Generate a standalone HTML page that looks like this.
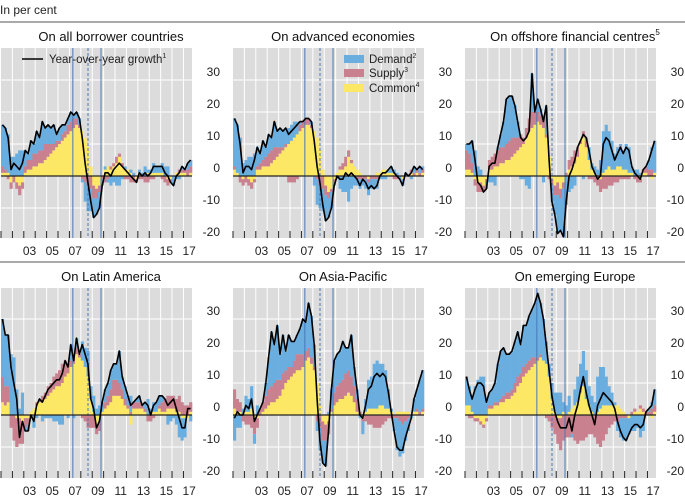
<!DOCTYPE html>
<html><head><meta charset="utf-8"><style>
html,body{margin:0;padding:0;background:#fff;}
svg{display:block;font-family:"Liberation Sans",sans-serif;}
</style></head><body>
<svg id="chart" width="685" height="501" viewBox="0 0 685 501">
<text x="0" y="14" font-size="12" fill="#222">In per cent</text>
<line x1="0" y1="22" x2="685" y2="22" stroke="#555" stroke-width="1"/>
<line x1="0" y1="262" x2="685" y2="262" stroke="#555" stroke-width="1"/>
</svg>
<script>
const titles = ["On all borrower countries","On advanced economies","On offshore financial centres","On Latin America","On Asia-Pacific","On emerging Europe"];
const titleSup = ["","","5","","",""];
const yTicks = [30,20,10,0,-10,-20];
const yearLabels = ["03","05","07","09","11","13","15","17"];
const yearLabelYears = [2003,2005,2007,2009,2011,2013,2015,2017];
const eventLines = [2007.3, 2008.63, 2009.77];

const growth1 = [16,15,12,2,4,3,2,4,8,7,11,10,14,12,17,15,16,15,16,13,15,16,16,18,20,19,20,18,12,4,-2,-8,-13,-12,-10,-3,1,1,0,2,3,4,3,2,1,0,-1,-2,1,0,1,0,1,3,3,3,3,1,0,-2,-3,0,1,3,2,4,5];
const common1 = [1,1,1,-2,0,-2,-3,-2,1,2,2,3,3,4,4,5,6,7,8,9,10,11,12,13,14,15,16,15,14,12,9,3,-3,-4,-3,0,2,3,2,3,4,6,3,2,2,1,0,-1,1,0,0,1,1,1,1,1,1,0,-1,-1,0,1,1,1,1,0,1];
const supply1 = [2,1,-1,-2,-2,-2,-3,-2,2,3,3,4,4,4,4,5,4,3,2,2,1,2,2,3,3,3,2,1,-1,-2,-3,-4,-4,-3,-2,-1,-2,-1,1,1,2,1,1,-1,-1,-2,-2,-1,-1,-1,-2,-2,-1,-1,0,0,-1,-2,-2,-1,0,0,1,1,1,2,2];
const demand1 = [13,13,12,6,6,7,8,8,5,2,6,3,7,4,9,5,6,5,6,2,4,3,2,2,3,1,2,2,-1,-6,-8,-7,-6,-5,-5,-2,1,-1,-3,-2,-3,-3,-1,1,0,1,1,0,1,1,3,1,1,3,2,2,3,3,3,0,-3,-1,-1,1,0,2,2];

const growth2 = [18,16,10,1,3,3,2,5,9,7,11,9,13,12,17,14,15,14,15,13,14,15,16,17,17,18,18,17,11,3,-2,-9,-14,-13,-10,-3,0,-1,-1,1,0,1,0,-1,-3,-1,-2,-4,-3,-4,-3,0,1,1,2,3,1,0,-1,-3,1,0,1,3,2,3,2];
const common2 = [2,1,0,-1,0,-1,-2,-1,2,2,3,3,3,4,5,6,7,8,9,10,11,12,13,14,15,16,16,15,14,12,8,2,-3,-5,-4,-1,1,2,2,3,6,4,3,2,1,0,0,-1,0,0,1,1,2,2,1,1,1,0,0,-1,0,0,1,0,1,0,1];
const supply2 = [1,0,-2,-2,-2,-2,-2,-1,1,2,2,3,4,4,4,3,2,1,1,-2,-2,-2,-1,2,2,2,2,1,0,-1,-3,-4,-3,-2,-1,-1,0,1,2,3,2,1,0,-1,-1,-1,-1,-1,-1,-1,-1,0,0,0,0,0,-1,-1,0,0,0,0,1,1,1,1,1];
const demand2 = [15,15,12,4,5,6,6,7,6,3,6,3,6,4,8,5,6,5,5,5,5,5,4,1,0,0,0,1,-3,-8,-7,-7,-8,-6,-5,-1,-1,-4,-5,-5,-8,-4,-3,-2,-3,-2,-3,-4,-3,-3,-3,-1,-1,-1,1,2,1,1,-1,-2,1,0,-1,2,0,2,1];

const growth3 = [10,10,11,5,-2,-3,-5,-4,3,4,4,9,13,17,24,25,25,22,17,12,11,12,14,32,20,24,21,17,22,5,-8,-12,-18,-17,-19,-8,0,2,5,9,11,13,12,8,3,1,-1,0,10,12,11,8,5,7,9,7,9,8,3,1,0,-1,2,3,5,8,11];
const common3 = [2,2,1,-1,-2,-2,-3,-1,2,2,3,3,4,4,5,5,6,7,8,9,10,12,14,15,16,17,16,15,12,6,-1,-3,-2,-4,-2,0,2,3,4,6,10,12,9,5,2,1,0,-1,1,2,3,2,2,3,3,2,2,1,1,0,0,-1,1,1,0,-1,1];
const supply3 = [6,5,3,-2,-3,-3,-2,-1,3,4,4,5,5,5,5,6,6,5,4,4,2,3,4,5,4,3,3,4,1,-1,-2,-3,-4,-3,-2,1,3,3,4,3,1,2,2,-1,-1,-2,-3,-4,-4,-4,-3,-3,-2,-2,-1,-1,-1,-1,0,-1,-2,-1,1,2,2,2,0];
const demand3 = [2,3,7,8,3,2,0,-2,-2,-2,-3,1,4,8,14,14,13,10,5,-1,-1,-3,-4,12,0,4,2,-2,9,0,-5,-6,-12,-10,-15,-9,-5,-4,-3,0,0,-1,1,4,2,2,2,5,13,14,11,9,5,6,7,6,8,8,2,2,2,1,0,0,3,7,10];

const growth4 = [30,25,25,15,10,5,-7,-2,-5,-5,0,-2,3,5,4,6,8,9,10,11,11,13,17,15,22,17,24,19,22,19,16,5,2,-4,-2,4,8,10,14,16,16,20,12,9,6,3,4,5,6,3,4,3,0,3,4,6,6,5,3,4,5,2,-1,-4,-4,2,2];
const common4 = [4,3,4,0,0,-1,-1,-2,-1,-1,1,2,3,4,4,5,6,7,8,9,9,10,12,13,15,16,19,18,17,15,12,5,1,-3,-2,1,2,3,4,6,6,6,5,3,2,-3,2,2,2,2,1,0,0,1,1,2,1,1,2,2,2,1,1,-1,-1,-1,1];
const supply4 = [8,6,5,-4,-8,-9,-8,-7,-3,-2,-1,0,1,1,2,2,3,3,4,4,5,6,5,3,2,2,2,1,-1,-2,-4,-4,-4,-3,-3,0,2,3,4,5,5,4,3,2,1,1,2,2,2,1,1,-2,-2,-1,0,1,3,4,4,4,4,4,5,4,3,3,3];
const demand4 = [18,16,16,19,18,8,2,7,-1,-2,0,-4,-1,0,-2,-1,-1,-1,-2,-2,-3,-3,0,-1,5,-1,3,0,6,6,8,4,5,2,3,3,4,4,6,5,5,10,4,4,3,5,0,1,2,0,2,5,2,3,3,3,2,0,-3,-2,-1,-3,-7,-7,-6,0,-2];

const growth5 = [-1,1,0,0,3,2,5,-2,0,2,4,10,18,26,22,28,19,25,20,25,23,23,25,27,30,29,35,31,22,5,-8,-15,-16,-5,8,17,19,20,23,21,21,25,15,8,0,-1,3,8,9,12,13,12,13,12,7,1,-5,-10,-11,-11,-7,-4,-1,5,8,11,14];
const common5 = [2,1,1,0,1,1,2,-1,-1,0,1,2,3,4,4,5,6,8,10,11,12,13,14,14,15,17,18,16,14,10,3,-2,-3,-2,1,3,4,5,5,6,7,6,4,1,0,-1,1,2,2,2,2,3,3,2,2,1,0,1,1,1,1,1,0,1,1,0,1];
const supply5 = [6,4,3,-2,-3,-3,-4,-5,-3,2,3,4,5,5,6,6,5,5,4,4,3,4,5,5,4,3,3,2,1,-2,-4,-6,-5,-4,1,4,5,5,6,7,7,6,5,4,1,-1,-2,-3,-3,-4,-4,-4,-3,-2,-1,-1,-1,-1,-2,-3,-2,-1,0,0,1,1,1];
const demand5 = [-8,-4,-4,2,5,4,7,-3,3,0,0,4,10,17,12,17,8,12,6,10,8,6,6,8,11,9,14,13,7,-3,-7,-7,-8,1,6,10,10,10,12,8,7,13,6,3,-1,-4,4,9,10,14,15,13,13,12,6,1,-4,-10,-11,-9,-6,-4,-1,4,6,10,12];

const growth6 = [12,8,5,8,10,10,9,4,7,8,10,16,20,21,19,19,20,23,26,22,28,28,31,33,35,38,35,30,22,14,6,1,-2,-4,-4,-4,-1,-5,0,3,8,12,7,3,0,-3,3,5,7,6,5,4,2,-2,-5,-7,-8,-6,-4,-3,-3,-4,-3,1,2,3,8];
const common6 = [3,3,1,-1,-1,-2,-3,-1,2,2,3,3,4,4,5,5,6,7,9,10,12,13,14,15,16,17,18,17,16,12,5,1,-1,-1,1,0,1,2,3,4,7,9,5,3,1,0,1,2,3,3,3,3,3,3,2,1,0,-1,0,1,1,2,1,0,0,-1,1];
const supply6 = [0,-1,-1,-1,-1,-1,-1,-1,1,1,1,1,1,2,2,2,2,3,3,3,3,3,3,3,2,1,1,0,-1,-2,-4,-6,-8,-10,-8,-7,-7,-6,-8,-9,-8,-8,-7,-6,-6,-7,-9,-10,-8,-6,-4,-3,-2,-2,-1,-1,-1,0,1,1,0,1,1,1,1,2,2];
const demand6 = [9,6,5,9,11,12,12,5,4,5,6,12,15,15,12,12,12,13,14,9,13,12,14,15,17,20,16,13,7,4,5,6,7,7,3,3,5,-1,5,8,9,11,9,6,5,4,11,13,12,9,6,4,1,-3,-6,-7,-7,-5,-5,-5,-4,-7,-5,0,1,2,5];

const growthAll = [growth1,growth2,growth3,growth4,growth5,growth6];
const commonAll = [common1,common2,common3,common4,common5,common6];
const supplyAll = [supply1,supply2,supply3,supply4,supply5,supply6];
const demandAll = [demand1,demand2,demand3,demand4,demand5,demand6];

const NS="http://www.w3.org/2000/svg";
const svg=document.getElementById('chart');
function mk(tag,attrs,parent){const e=document.createElementNS(NS,tag);for(const k in attrs)e.setAttribute(k,attrs[k]);(parent||svg).appendChild(e);return e;}

const panelX=[1,233,465,1,233,465];
const panelTop=[48,48,48,288,288,288];
const zeroY=[176,176,176,415,415,415];
const plotW=191;
const startYear=2001, endYear=2017.75;
const COL={demand:"#6aaee0",supply:"#c9808f",common:"#fde865"};

for(let p=0;p<6;p++){
  const x0=panelX[p], top=panelTop[p], z=zeroY[p], bottom=top+190;
  const g=mk('g',{});
  
  
  const xs=yr=>x0+(yr-startYear)/(endYear-startYear)*plotW;
  const ys=v=>z-v*3.2;
  const bg=mk('rect',{x:x0,y:top,width:plotW,height:190,fill:"#dcdcdc"},g);
  
  
  // vertical year grid
  for(let y=2002;y<=2017;y++){
    const l=mk('line',{x1:xs(y),x2:xs(y),y1:top,y2:bottom,stroke:"#fff","stroke-width":1},g);
    
    
  }
  yTicks.forEach(t=>{
    if(t!==0 && ys(t)>top && ys(t)<bottom){
      const l=mk('line',{x1:x0,x2:x0+plotW,y1:ys(t),y2:ys(t),stroke:"#fff","stroke-width":1},g);
      
      
    }
    const tx=mk('text',{x:x0+219,y:ys(t)-4,"text-anchor":"end","font-size":"12",fill:"#222"},g);
    tx.textContent=t;
    
    
  });
  // bars
  const n=growthAll[p].length, bw=plotW/n*(67/ (endYear-startYear)/4)/ (67/(endYear-startYear)/4);
  const qw=plotW/((endYear-startYear)*4);
  for(let i=0;i<n;i++){
    let pos=0,neg=0;
    const comps=[["common",commonAll[p][i]],["supply",supplyAll[p][i]],["demand",demandAll[p][i]]];
    comps.forEach(([name,v])=>{
      if(v===0)return;
      let y1,y2;
      if(v>0){y1=pos;y2=pos+v;pos=y2;}else{y1=neg;y2=neg+v;neg=y2;}
      const r=mk('rect',{x:x0+i*qw,width:qw+0.3,y:Math.min(ys(y1),ys(y2)),height:Math.abs(ys(y1)-ys(y2)),fill:COL[name]},g);
      
      
    });
  }
  // event lines
  eventLines.forEach((ev,k)=>{
    const l=mk('line',{x1:xs(ev),x2:xs(ev),y1:top,y2:bottom,stroke:"#4a78b8","stroke-width":1},g);
    if(k===1)l.setAttribute('stroke-dasharray','3,2');
    
    
  });
  const zl=mk('line',{x1:x0,x2:x0+plotW,y1:z,y2:z,stroke:"#222","stroke-width":1.2},g);
  
  
  // growth line
  const pts=growthAll[p].map((v,i)=>(x0+(i+0.5)*qw).toFixed(1)+","+ys(v).toFixed(1)).join(" ");
  const pl=mk('polyline',{points:pts,fill:"none",stroke:"#000","stroke-width":1.6,"stroke-linejoin":"round"},g);
  
  
  // ticks
  for(let y=2001;y<=2017;y++){
    const t=mk('line',{x1:xs(y+ (y===2001?0:0)),x2:xs(y),y1:bottom-7,y2:bottom,stroke:"#222","stroke-width":1},g);
    
    
  }
  yearLabels.forEach((lab,k)=>{
    const tx=mk('text',{x:xs(yearLabelYears[k]+0.5),y:bottom+17,"text-anchor":"middle","font-size":"12",fill:"#222"},g);
    tx.textContent=lab;
    
    
  });
  const tt=mk('text',{x:x0+110,y:top-7,"text-anchor":"middle","font-size":"13",fill:"#111"},g);
  tt.textContent=titles[p];
  
  
  if(titleSup[p]){
    const s=mk('tspan',{"font-size":"8",dy:"-6"},tt);
    s.textContent=titleSup[p];
  }
}
// legends
const lg=mk('g',{});


const ll=mk('line',{x1:22,x2:43,y1:59,y2:59,stroke:"#000","stroke-width":1.6},lg);


const lt=mk('text',{x:49,y:63,"font-size":"11.5",fill:"#222"},lg);
lt.innerHTML='Year-over-year growth<tspan font-size="7" dy="-5">1</tspan>';


[["Demand","2","demand",59],["Supply","3","supply",73],["Common","4","common",88]].forEach(([lab,sup,key,y])=>{
  const r=mk('rect',{x:344,y:y-4,width:20,height:8,fill:COL[key]},lg);
  
  
  const t=mk('text',{x:369,y:y+4,"font-size":"11.5",fill:"#222"},lg);
  t.innerHTML=lab+'<tspan font-size="7" dy="-5">'+sup+'</tspan>';
  
  
});
</script>
</body></html>
